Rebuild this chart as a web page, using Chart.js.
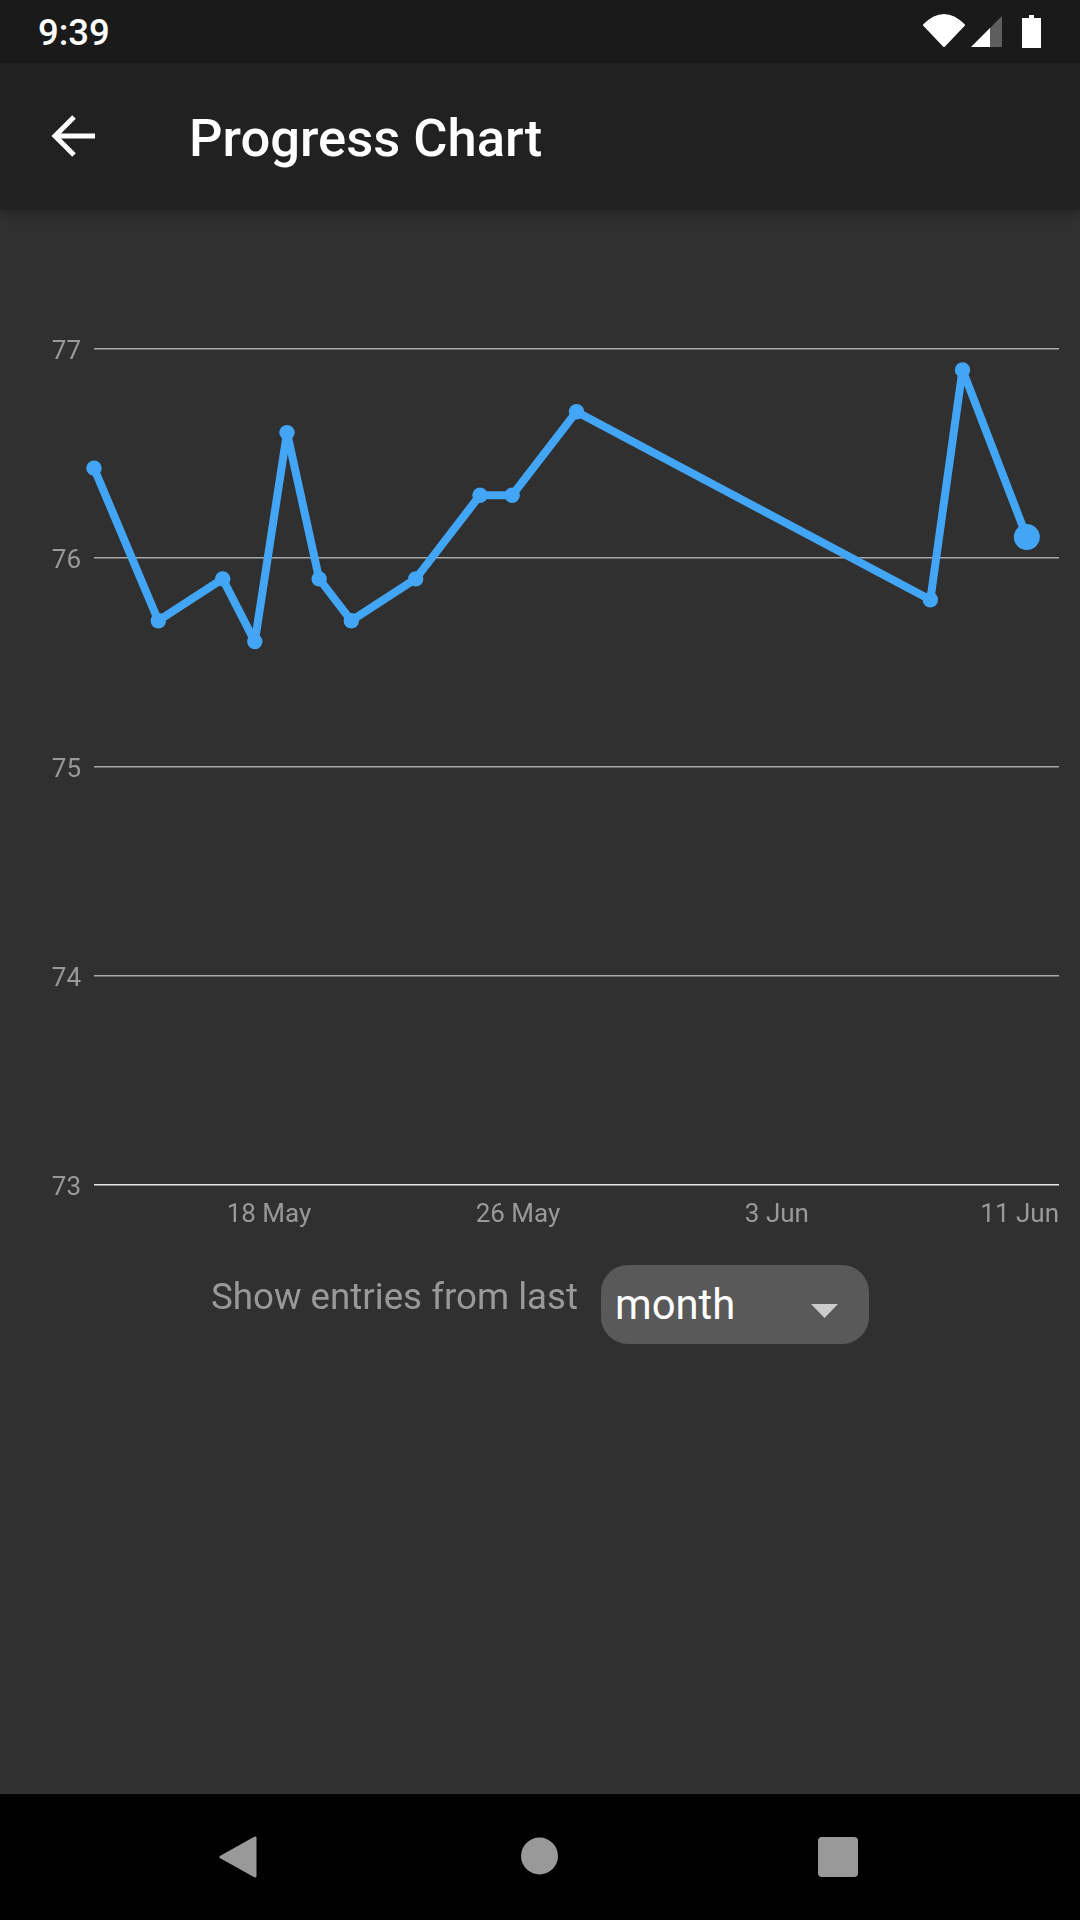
<!DOCTYPE html>
<html>
<head>
<meta charset="utf-8">
<title>Progress Chart</title>
<script src="https://cdn.jsdelivr.net/npm/chart.js@4"></script>
<style>
    html, body { margin: 0; padding: 0; background: #303030; }
    body { position: relative; width: 1080px; height: 1920px; overflow: hidden; font-family: Roboto, sans-serif; }
    .abs { position: absolute; white-space: nowrap; }
    #status { left: 0; top: 0; width: 1080px; height: 63px; background: #1a1a1a; }
    #appbar { left: 0; top: 63px; width: 1080px; height: 147px; background: #212121; box-shadow: 0 3px 12px rgba(0,0,0,.25); }
    #nav { left: 0; top: 1794px; width: 1080px; height: 126px; background: #000; }
    #time { left: 38px; top: 12px; font-size: 36.5px; line-height: 42px; font-weight: 500; color: #fff; }
    #title { left: 189px; top: 108px; font-size: 52.5px; line-height: 60px; font-weight: 500; color: #fff; }
    #showLabel { left: 211px; top: 1276px; font-size: 36.7px; line-height: 42px; color: #999; }
    #dropdown { left: 601px; top: 1265px; width: 268px; height: 79px; border-radius: 27px; background: #595959; }
    #month { left: 615px; top: 1280px; font-size: 41.8px; line-height: 50px; color: #fff; }
    svg { position: absolute; left: 0; top: 0; }
    canvas { position: absolute; left: 0; top: 0; }
</style>
</head>
<body>
<canvas id="progressChart" width="1080" height="1920"></canvas>
<div class="abs" id="status"></div>
<div class="abs" id="appbar"></div>
<div class="abs" id="nav"></div>
<div class="abs" id="time">9:39</div>
<div class="abs" id="title">Progress Chart</div>
<div class="abs" id="showLabel">Show entries from last</div>
<div class="abs" id="dropdown"></div>
<div class="abs" id="month">month</div>
<svg width="1080" height="1920">
    <!-- status icons -->
    <path d="M924 25 Q944 5 964 25 L944 46 Z" fill="#fff" stroke="#fff" stroke-width="2" stroke-linejoin="round"/>
    <path d="M971 47 L990 28 L990 47 Z" fill="#fff"/>
    <path d="M990 28 L1002 16 L1002 47 L990 47 Z" fill="#5e5e5e"/>
    <path d="M1029 18 V15 H1034 V18 H1041 V48 H1022 V18 Z" fill="#fff"/>
    <!-- back arrow -->
    <path d="M95 136 H56 M74 117 L55 136 L74 155" fill="none" stroke="#fff" stroke-width="5"/>
    <!-- dropdown arrow -->
    <path d="M811 1304 H838 L824.5 1318 Z" fill="#ccc"/>
    <!-- nav buttons -->
    <path d="M255 1838 V1876 L221 1857 Z" fill="#999" stroke="#999" stroke-width="3" stroke-linejoin="round"/>
    <circle cx="539.5" cy="1856" r="18.5" fill="#999"/>
    <rect x="818" y="1837" width="40" height="40" rx="4" fill="#999"/>
</svg>
<script>
const dayOffsets = [0, 2, 4, 5, 6, 7, 8, 10, 12, 13, 15, 26, 27, 29];
const weights = [76.43, 75.7, 75.9, 75.6, 76.6, 75.9, 75.7, 75.9, 76.3, 76.3, 76.7, 75.8, 76.9, 76.1];

const xTickDays = [5.44, 13.18, 21.23, 29.4];
const xTickLabels = ['18 May', '26 May', '3 Jun', '11 Jun'];
const yTicks = [73, 74, 75, 76, 77];

// last x label sits inside the plot edge instead of centred on its tick
const alignLastLabel = {
    id: 'alignLastLabel',
    beforeDraw(chart) {
        const scale = chart.scales.x;
        const items = scale.getLabelItems();
        const last = items[items.length - 1];
        last.options.textAlign = 'right';
        last.options.translation = [scale.right, last.options.translation[1]];
    }
};

new Chart(document.getElementById('progressChart').getContext('2d'), {
    type: 'line',
    data: {
        datasets: [{
            label: 'Weight',
            data: dayOffsets.map((d, i) => ({ x: d, y: weights[i] })),
            borderColor: '#42a5f5',
            backgroundColor: '#42a5f5',
            borderWidth: 8,
            borderJoinStyle: 'round',
            tension: 0,
            clip: false,
            pointRadius: dayOffsets.map((d, i) => i === dayOffsets.length - 1 ? 13 : 7.7),
            pointBorderWidth: 0
        }]
    },
    plugins: [alignLastLabel],
    options: {
        responsive: false,
        animation: false,
        layout: {
            padding: { left: 0, top: 349, right: 21, bottom: 0 }
        },
        plugins: {
            legend: { display: false },
            tooltip: { enabled: false }
        },
        scales: {
            x: {
                type: 'linear',
                min: 0,
                max: 30,
                afterBuildTicks(scale) {
                    scale.ticks = xTickDays.map(v => ({ value: v }));
                },
                afterFit(scale) {
                    scale.height = 735;
                    scale.paddingRight = 0;
                },
                grid: { display: false, drawTicks: false },
                border: { display: false },
                ticks: {
                    autoSkip: false,
                    maxRotation: 0,
                    padding: 15,
                    color: '#999',
                    font: { family: 'Roboto', size: 26 },
                    callback: (value, i) => xTickLabels[i]
                }
            },
            y: {
                min: 73,
                max: 77,
                afterBuildTicks(scale) {
                    scale.ticks = yTicks.map(v => ({ value: v }));
                },
                afterFit(scale) {
                    scale.width = 94;
                },
                grid: {
                    drawTicks: false,
                    lineWidth: 1.5,
                    color: ctx => ctx.tick.value === 73 ? '#e8e8e8' : '#a8a8a8'
                },
                border: { display: false },
                ticks: {
                    padding: 13,
                    labelOffset: 3.5,
                    color: '#999',
                    font: { family: 'Roboto', size: 26 }
                }
            }
        }
    }
});
</script>
</body>
</html>
